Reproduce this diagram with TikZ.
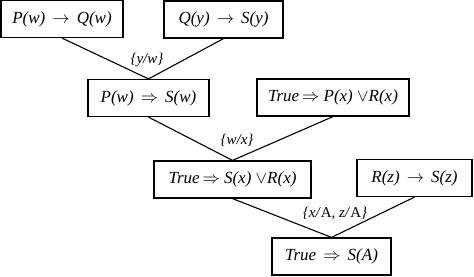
\documentclass[tikz,border=0pt]{standalone}
\usepackage{fontspec}
\setmainfont{Liberation Serif}
\usepackage{tikz}
\usetikzlibrary{positioning}
\tikzset{
  clause/.style = {rectangle, draw, line width=1.2pt, inner sep=0pt,
                   minimum height=37pt, font=\fontsize{17}{20}\selectfont\itshape},
  subst/.style  = {font=\fontsize{15}{18}\selectfont\itshape, inner sep=1pt},
  link/.style   = {line width=1.1pt},
}
\begin{document}
\begin{tikzpicture}[x=1pt, y=-1pt]
    \useasboundingbox (0,0) rectangle (474,276);

    %% Clauses
    \node[clause, minimum width=122pt] (pq)  at (62,19)      {P(w) \,$\rightarrow$\, Q(w)};
    \node[clause, minimum width=119pt] (qs)  at (223.5,19.5) {Q(y) \,$\rightarrow$\, S(y)};
    \node[clause, minimum width=121pt] (ps)  at (148.5,98)   {P(w) \,$\Rightarrow$\, S(w)};
    \node[clause, minimum width=152pt] (tpr) at (333,97.5)   {True\,$\Rightarrow$ P(x) $\vee$R(x)};
    \node[clause, minimum width=157pt] (tsr) at (232.5,179.5){True\,$\Rightarrow$ S(x) $\vee$R(x)};
    \node[clause, minimum width=115pt] (rs)  at (414.5,178)  {R(z) \,$\rightarrow$\, S(z)};
    \node[clause, minimum width=119pt] (ts)  at (331.5,256.5){True \,$\Rightarrow$\, S(A)};

    %% Substitutions
    \node[subst] (yw)  at (147,60)  {\{y/w\}};
    \node[subst] (wx)  at (237,140) {\{w/x\}};
    \node[subst] (xza) at (335,213) {\{x/\textup{A}, z/\textup{A}\}};

    %% Resolution steps
    \draw[link] (pq.south)  -- (ps.north);
    \draw[link] (qs.south)  -- (ps.north);
    \draw[link] (ps.south)  -- (tsr.north);
    \draw[link] (tpr.south) -- (tsr.north);
    \draw[link] (tsr.south) -- (ts.north);
    \draw[link] (rs.south)  -- (ts.north);

\end{tikzpicture}
\end{document}
